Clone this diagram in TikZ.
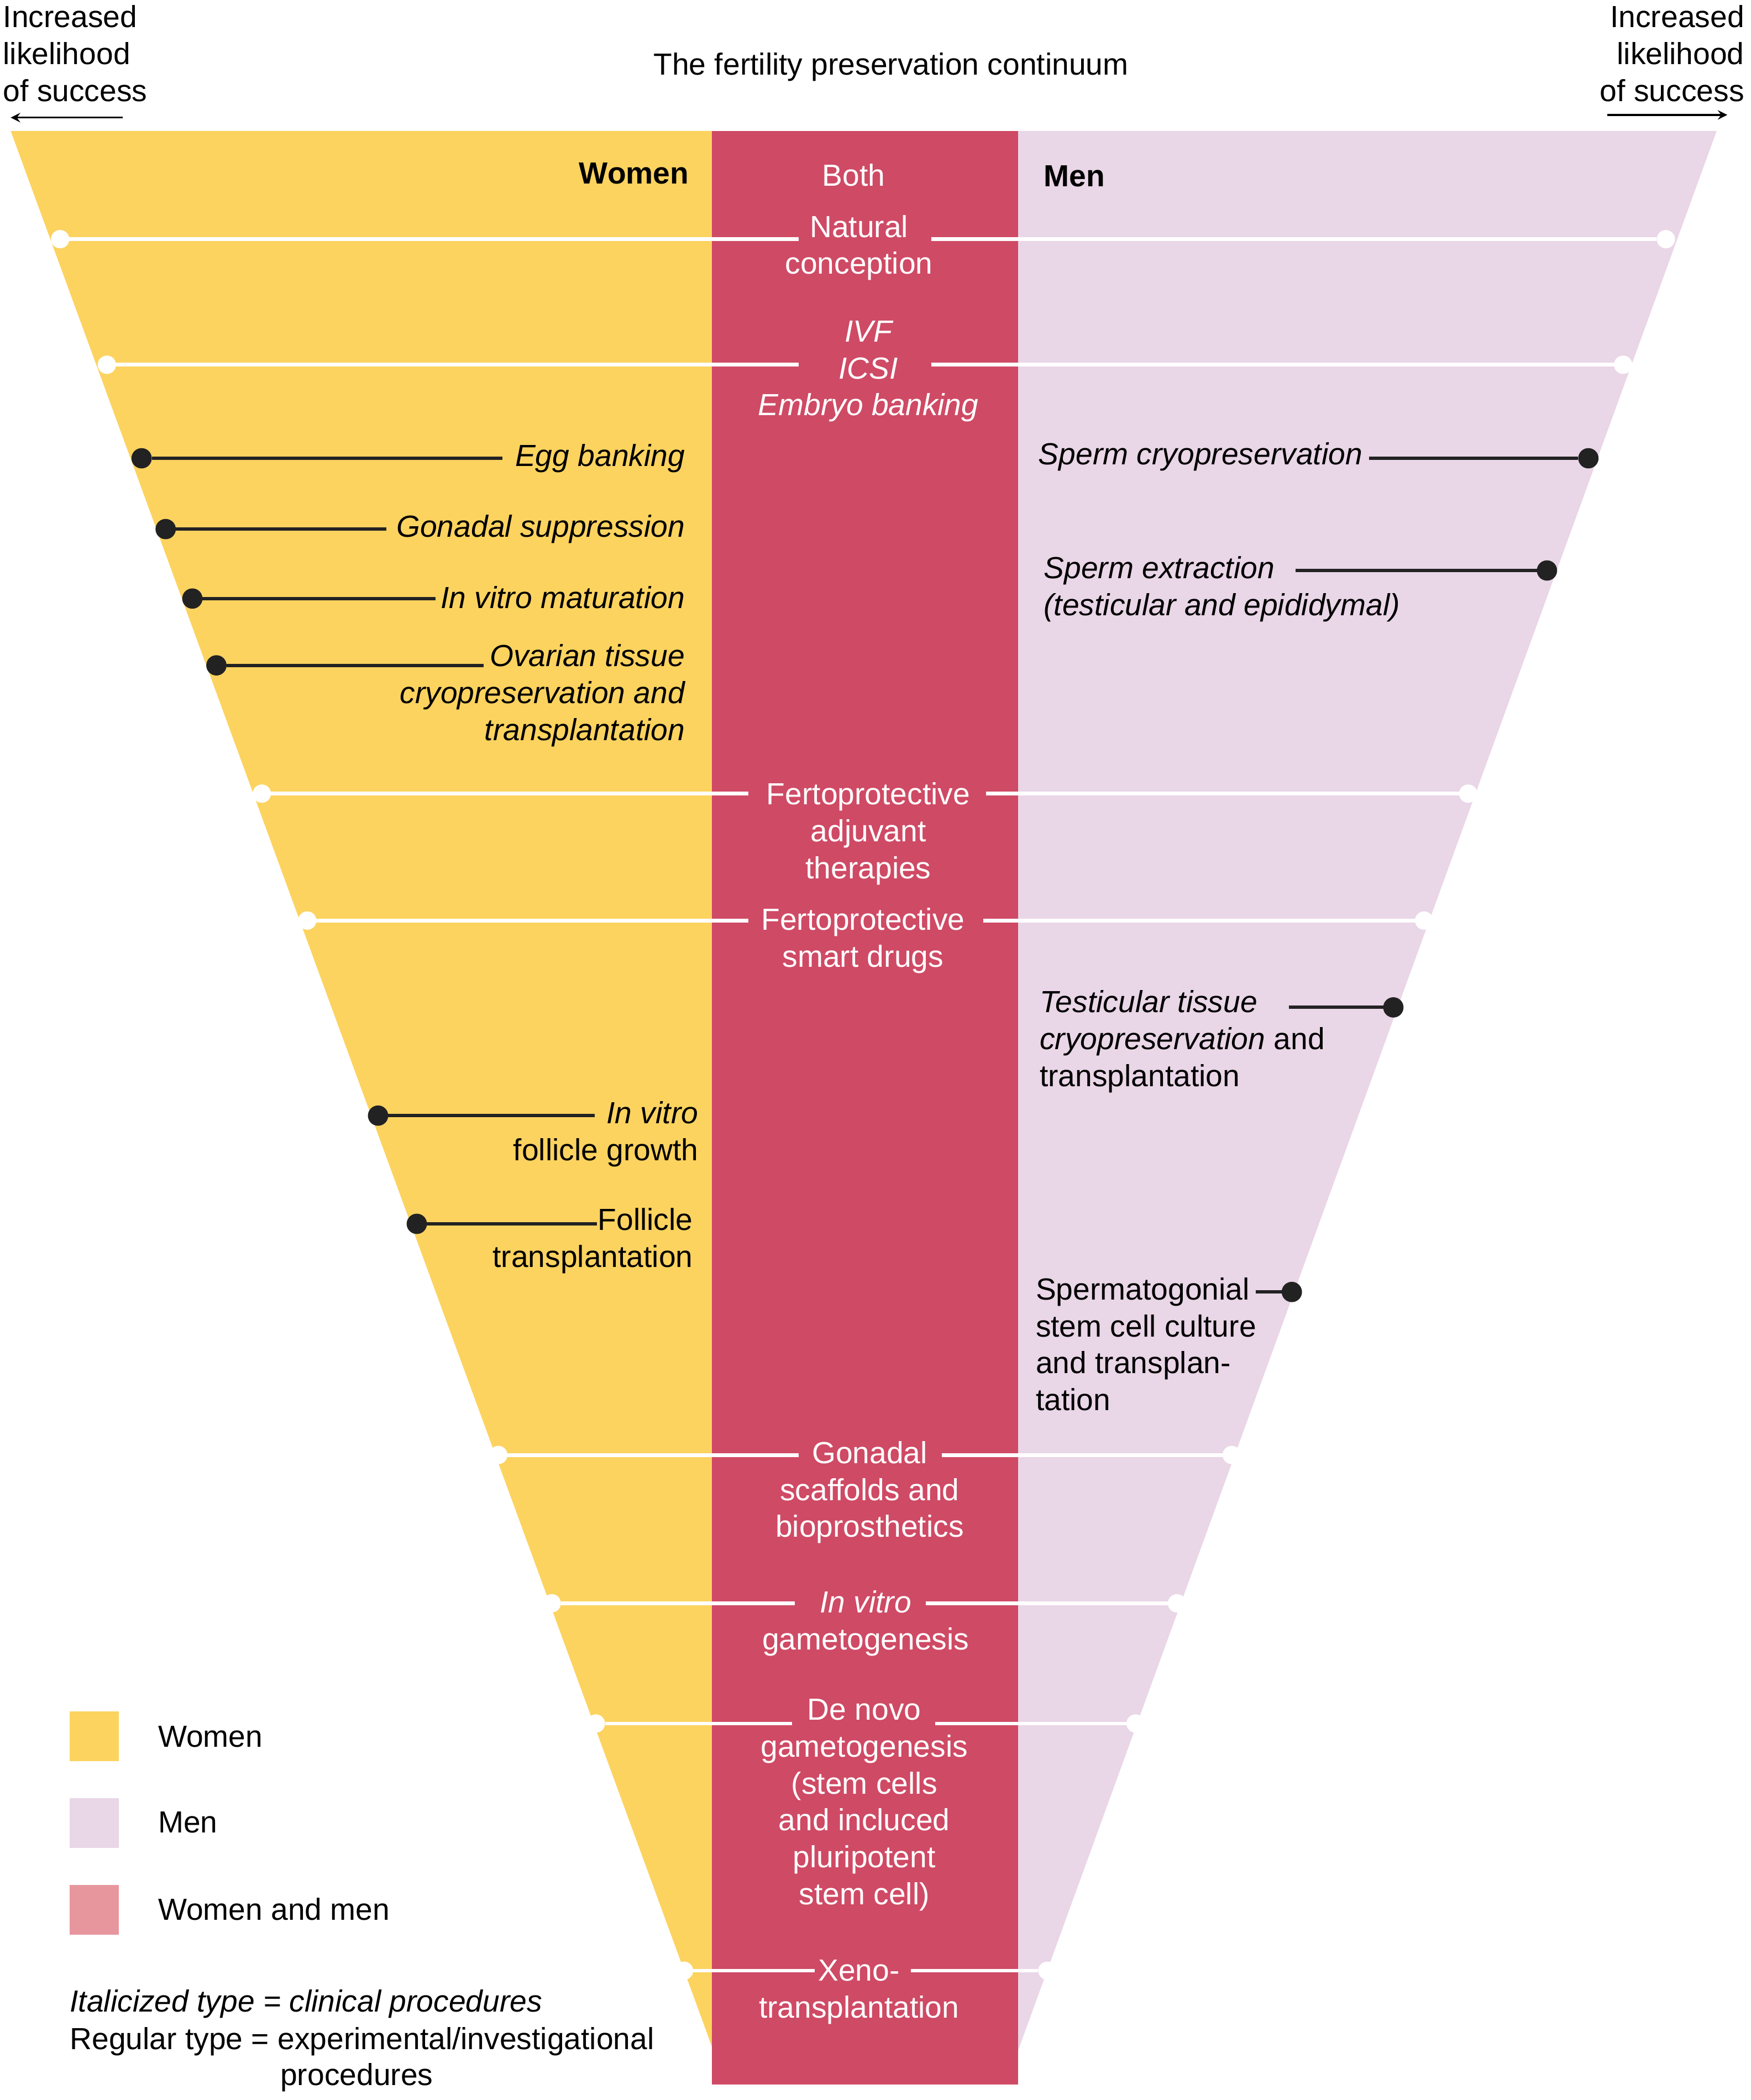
\documentclass[tikz,border=0pt]{standalone}
\usepackage{fontspec}
\setmainfont{Liberation Sans}
\definecolor{wyel}{HTML}{FCD35F}
\definecolor{bred}{HTML}{CF4A65}
\definecolor{mpink}{HTML}{E9D6E7}
\definecolor{lred}{HTML}{E8969E}
\definecolor{dk}{HTML}{222222}
\newcommand{\fs}{\fontsize{13}{15.7}\selectfont}
\begin{document}
\begin{tikzpicture}[x={(0.02cm,0)},y={(0,-0.02cm)},
  every node/.style={font=\fs,inner sep=0pt,align=center},
  wt/.style={text=white},
  wline/.style={white,line width=1.6pt},
  bline/.style={dk,line width=1.4pt},
  wdot/.style={circle,fill=white,draw=white,minimum size=0.26cm},
  bdot/.style={circle,fill=dk,draw=dk,minimum size=0.29cm}]
\useasboundingbox (0,0) rectangle (1310.5,1571.8);
\fill[wyel] (8,98) -- (533,98) -- (533,1532) -- cycle;
\fill[mpink] (762,98) -- (1285,98) -- (762,1535) -- cycle;
\fill[bred] (533,98) rectangle (762,1560);
% header
\node[align=left,anchor=west] (il) at (2,40) {Increased\\likelihood\\of success};
\node[align=right,anchor=east] (ir) at (1306,40) {Increased\\likelihood\\of success};
\coordinate (la1) at (92,88); \coordinate (la2) at (8,88);
\draw[-stealth,line width=0.8pt] (la1) -- (la2);
\coordinate (ra1) at (1203,86); \coordinate (ra2) at (1293,86);
\draw[-stealth,line width=0.8pt] (ra1) -- (ra2);
\node (title) at (667,50) {The fertility preservation continuum};
\node[anchor=east,font=\fs\bfseries] (hw) at (516,130) {Women};
\node[wt] (hb) at (639,131) {Both};
\node[anchor=west,font=\fs\bfseries] (hm) at (781,132) {Men};
% both rows: white lines
\newcommand{\wrow}[5]{% y, leftdot x, left gap, right gap, rightdot x
  \node[wdot] (L#1) at (#2,#1) {}; \node[wdot] (R#1) at (#5,#1) {};
  \coordinate (LG#1) at (#3,#1); \coordinate (RG#1) at (#4,#1);
  \draw[wline] (L#1) -- (LG#1); \draw[wline] (RG#1) -- (R#1);}
\wrow{179}{45}{598}{697}{1247}
\node[wt] (nc) at (643,185.5) {Natural\\conception};
\wrow{273}{80}{598}{697}{1215}
\node[wt,font=\fs\itshape] (ivf) at (650,278) {IVF\\ICSI\\Embryo banking};
\wrow{594}{196}{560}{738}{1099}
\node[wt] (fat) at (650,624) {Fertoprotective\\adjuvant\\therapies};
\wrow{689}{230}{560}{736}{1066}
\node[wt] (fsd) at (646,704) {Fertoprotective\\smart drugs};
\wrow{1089}{373}{598}{705}{922}
\node[wt] (gsb) at (651,1117) {Gonadal\\scaffolds and\\bioprosthetics};
\wrow{1200}{413}{595}{693}{881}
\node[wt] (ivg) at (648,1215) {\textit{In vitro}\\gametogenesis};
\wrow{1290}{446}{593}{700}{850}
\node[wt] (dng) at (647,1351) {De novo\\gametogenesis\\(stem cells\\and incluced\\pluripotent\\stem cell)};
\wrow{1475}{512}{610}{682}{784}
\node[wt] (xt) at (643,1491) {Xeno-\\transplantation};
% women rows
\newcommand{\blrow}[3]{\node[bdot] (D#1) at (#2,#1) {}; \coordinate (E#1) at (#3,#1); \draw[bline] (D#1) -- (E#1);}
\blrow{343}{106}{376}
\node[anchor=east,font=\fs\itshape] (eb) at (513,343) {Egg banking};
\blrow{396}{124}{289}
\node[anchor=east,font=\fs\itshape] (gs) at (513,396) {Gonadal suppression};
\blrow{448}{144}{326}
\node[anchor=east,font=\fs\itshape] (ivm) at (513,447) {In vitro maturation};
\blrow{498}{162}{362}
\node[anchor=north east,align=right,font=\fs\itshape] (ot) at (513,482) {Ovarian tissue\\cryopreservation and\\transplantation};
\blrow{835}{283}{445}
\node[anchor=north east,align=right] (vfg) at (523,824) {\textit{In vitro}\\follicle growth};
\blrow{916}{312}{447}
\node[anchor=north east,align=right] (ft) at (519,904) {Follicle\\transplantation};
% men rows
\newcommand{\brrow}[3]{\node[bdot] (D#1) at (#3,#1) {}; \coordinate (E#1) at (#2,#1); \draw[bline] (E#1) -- (D#1);}
\brrow{343}{1025}{1189}
\node[anchor=west,font=\fs\itshape] (sc) at (777,342) {Sperm cryopreservation};
\brrow{427}{970}{1158}
\node[anchor=north west,align=left,font=\fs\itshape] (se) at (781,416) {Sperm extraction\\(testicular and epididymal)};
\brrow{754}{965}{1043}
\node[anchor=north west,align=left] (tt) at (778,741) {\textit{Testicular tissue}\\\textit{cryopreservation} and\\transplantation};
\brrow{967}{940}{967}
\node[anchor=north west,align=left] (ssc) at (775,956) {Spermatogonial\\stem cell culture\\and transplan-\\tation};
% legend
\fill[wyel] (52,1281) rectangle (89,1318);
\fill[mpink] (52,1346) rectangle (89,1383);
\fill[lred] (52,1411) rectangle (89,1448);
\node[anchor=west] (lw) at (118,1300) {Women};
\node[anchor=west] (lm) at (118,1364) {Men};
\node[anchor=west] (lwm) at (118,1429) {Women and men};
\node[anchor=west,font=\fs\itshape] (f1) at (52,1500) {Italicized type = clinical procedures};
\node[anchor=west] (f2) at (52,1528) {Regular type = experimental/investigational};
\node (f3) at (267,1555) {procedures};
\end{tikzpicture}
\end{document}
